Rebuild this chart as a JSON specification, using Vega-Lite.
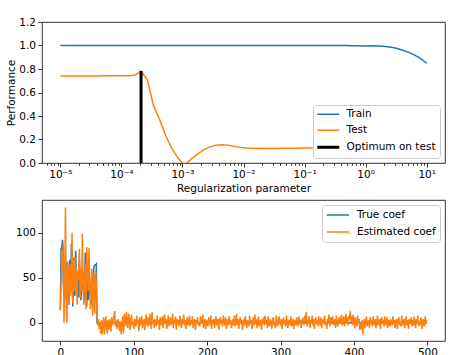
{
"$schema":"https://vega.github.io/schema/vega-lite/v6.json",
"padding":{"left":6,"top":16,"right":28,"bottom":0},
"bounds":"flush",
"spacing":37,
"config":{
 "font":"DejaVu Sans",
 "view":{"stroke":"black","strokeWidth":0.8},
 "axis":{"grid":false,"domain":false,"tickColor":"black","tickSize":4,"tickWidth":0.8,"labelColor":"black","labelFontSize":10.5,"labelFont":"DejaVu Sans","labelPadding":2.5,"titleFont":"DejaVu Sans","titleFontSize":10.5,"titleFontWeight":"normal","titleColor":"black","labelFlush":false,"labelOverlap":false},
 "legend":{"labelFontSize":10.5,"labelColor":"black","labelFont":"DejaVu Sans","symbolType":"M-2.2,0H2.2","symbolSize":100,"symbolStrokeWidth":1.5,"symbolOffset":6,"labelOffset":13,"padding":4,"rowPadding":5,"fillColor":"white","strokeColor":"#cccccc","cornerRadius":3,"offset":5}
},
"datasets":{
 "perf":[
{"a":1e-5,"tr":1,"te":0.740},{"a":1.2638e-5,"tr":1,"te":0.740},{"a":1.5972e-5,"tr":1,"te":0.740},{"a":2.0185e-5,"tr":1,"te":0.741},{"a":2.5510e-5,"tr":1,"te":0.741},{"a":3.2240e-5,"tr":1,"te":0.741},{"a":4.0745e-5,"tr":1,"te":0.741},{"a":5.1494e-5,"tr":1,"te":0.742},{"a":6.5079e-5,"tr":1,"te":0.742},{"a":8.2247e-5,"tr":1,"te":0.742},
{"a":1.0394e-4,"tr":1,"te":0.743},{"a":1.3136e-4,"tr":1,"te":0.743},{"a":1.6601e-4,"tr":1,"te":0.746},{"a":2.0981e-4,"tr":1,"te":0.783},{"a":2.6516e-4,"tr":1,"te":0.71},{"a":3.3511e-4,"tr":1,"te":0.49},{"a":4.2351e-4,"tr":1,"te":0.37},{"a":5.3524e-4,"tr":1,"te":0.23},{"a":6.7644e-4,"tr":1,"te":0.12},{"a":8.5488e-4,"tr":1,"te":0.04},
{"a":1.0804e-3,"tr":1,"te":-0.02},{"a":1.3654e-3,"tr":1,"te":0.03},{"a":1.7256e-3,"tr":1,"te":0.072},{"a":2.1809e-3,"tr":1,"te":0.11},{"a":2.7562e-3,"tr":1,"te":0.135},{"a":3.4833e-3,"tr":1,"te":0.152},{"a":4.4022e-3,"tr":1,"te":0.155},{"a":5.5635e-3,"tr":1,"te":0.152},{"a":7.0312e-3,"tr":1,"te":0.14},{"a":8.8861e-3,"tr":1,"te":0.133},
{"a":1.1230e-2,"tr":1,"te":0.128},{"a":1.4193e-2,"tr":1,"te":0.125},{"a":1.7937e-2,"tr":1,"te":0.123},{"a":2.2669e-2,"tr":1,"te":0.123},{"a":2.8650e-2,"tr":1,"te":0.123},{"a":3.6207e-2,"tr":1,"te":0.124},{"a":4.5759e-2,"tr":1,"te":0.125},{"a":5.7830e-2,"tr":1,"te":0.125},{"a":7.3086e-2,"tr":1,"te":0.126},{"a":9.2367e-2,"tr":1,"te":0.127},
{"a":0.11674,"tr":1,"te":0.128},{"a":0.14753,"tr":0.9999,"te":0.129},{"a":0.18645,"tr":0.9998,"te":0.13},{"a":0.23564,"tr":0.9997,"te":0.13},{"a":0.29780,"tr":0.9996,"te":0.13},{"a":0.37637,"tr":0.9994,"te":0.13},{"a":0.47566,"tr":0.999,"te":0.13},{"a":0.60114,"tr":0.9985,"te":0.13},{"a":0.75973,"tr":0.9975,"te":0.13},{"a":0.96016,"tr":0.996,"te":0.13},
{"a":1.2135,"tr":0.998,"te":0.13},{"a":1.5336,"tr":0.996,"te":0.13},{"a":1.9382,"tr":0.993,"te":0.13},{"a":2.4495,"tr":0.988,"te":0.13},{"a":3.0957,"tr":0.978,"te":0.13},{"a":3.9124,"tr":0.962,"te":0.13},{"a":4.9545,"tr":0.944,"te":0.13},{"a":6.2609,"tr":0.92,"te":0.13},{"a":7.9128,"tr":0.89,"te":0.13},{"a":10,"tr":0.849,"te":0.13}
 ],
 "opt":[{"a":2.0981e-4,"lo":0,"hi":0.783}],
 "truec":[
{"i":0,"t":14},{"i":1,"t":82},{"i":2,"t":84},{"i":3,"t":92},{"i":4,"t":45},{"i":5,"t":30},{"i":6,"t":55},{"i":7,"t":62},{"i":8,"t":25},{"i":9,"t":68},
{"i":10,"t":66},{"i":11,"t":40},{"i":12,"t":20},{"i":13,"t":70},{"i":14,"t":35},{"i":15,"t":88},{"i":16,"t":50},{"i":17,"t":18},{"i":18,"t":72},{"i":19,"t":30},
{"i":20,"t":60},{"i":21,"t":80},{"i":22,"t":35},{"i":23,"t":45},{"i":24,"t":55},{"i":25,"t":28},{"i":26,"t":70},{"i":27,"t":40},{"i":28,"t":25},{"i":29,"t":42},
{"i":30,"t":38},{"i":31,"t":56},{"i":32,"t":22},{"i":33,"t":34},{"i":34,"t":78},{"i":35,"t":47},{"i":36,"t":18},{"i":37,"t":60},{"i":38,"t":25},{"i":39,"t":30},
{"i":40,"t":45},{"i":41,"t":38},{"i":42,"t":20},{"i":43,"t":50},{"i":44,"t":35},{"i":45,"t":55},{"i":46,"t":63},{"i":47,"t":64},{"i":48,"t":64},{"i":49,"t":65},
{"i":50,"t":0},{"i":499,"t":0}
 ],
 "est":[
{"i":0,"e":14},{"i":1,"e":45},{"i":2,"e":80},{"i":3,"e":60},{"i":4,"e":88},{"i":5,"e":0},{"i":6,"e":40},{"i":7,"e":128},{"i":8,"e":30},{"i":9,"e":0},
{"i":10,"e":68},{"i":11,"e":55},{"i":12,"e":20},{"i":13,"e":65},{"i":14,"e":30},{"i":15,"e":45},{"i":16,"e":100},{"i":17,"e":22},{"i":18,"e":70},{"i":19,"e":35},
{"i":20,"e":73},{"i":21,"e":30},{"i":22,"e":60},{"i":23,"e":20},{"i":24,"e":58},{"i":25,"e":48},{"i":26,"e":82},{"i":27,"e":28},{"i":28,"e":60},{"i":29,"e":35},
{"i":30,"e":99},{"i":31,"e":50},{"i":32,"e":20},{"i":33,"e":45},{"i":34,"e":65},{"i":35,"e":15},{"i":36,"e":84},{"i":37,"e":55},{"i":38,"e":35},{"i":39,"e":83},
{"i":40,"e":48},{"i":41,"e":15},{"i":42,"e":40},{"i":43,"e":60},{"i":44,"e":8},{"i":45,"e":35},{"i":46,"e":55},{"i":47,"e":10},{"i":48,"e":58},{"i":49,"e":42},
{"i":50,"e":8},{"i":51,"e":-3},{"i":52,"e":4},{"i":53,"e":-7},{"i":54,"e":1},{"i":55,"e":-12},{"i":56,"e":3},{"i":57,"e":-13},{"i":58,"e":-4},{"i":59,"e":6},
{"i":60,"e":-13},{"i":61,"e":0},{"i":62,"e":7},{"i":63,"e":-6},{"i":64,"e":-12},{"i":65,"e":3},{"i":66,"e":-8},{"i":67,"e":4},{"i":68,"e":-1},{"i":69,"e":-10},
{"i":70,"e":6},{"i":71,"e":-3},{"i":72,"e":1},{"i":73,"e":8},{"i":74,"e":13},{"i":75,"e":-4},{"i":76,"e":3},{"i":77,"e":-7},{"i":78,"e":0},{"i":79,"e":4},
{"i":80,"e":-6},{"i":81,"e":-9},{"i":82,"e":1},{"i":83,"e":-13},{"i":84,"e":-3},{"i":85,"e":7},{"i":86,"e":-12},{"i":87,"e":10},{"i":88,"e":3},{"i":89,"e":-4},
{"i":90,"e":12},{"i":91,"e":0},{"i":92,"e":-6},{"i":93,"e":10},{"i":94,"e":4},{"i":95,"e":-8},{"i":96,"e":3},{"i":97,"e":9},{"i":98,"e":-3},{"i":99,"e":1},
{"i":100,"e":-7},{"i":101,"e":4},{"i":102,"e":0},{"i":103,"e":-4},{"i":104,"e":8},{"i":105,"e":-1},{"i":106,"e":3},{"i":107,"e":-9},{"i":108,"e":6},{"i":109,"e":-3},
{"i":110,"e":1},{"i":111,"e":7},{"i":112,"e":-6},{"i":113,"e":0},{"i":114,"e":4},{"i":115,"e":-8},{"i":116,"e":3},{"i":117,"e":9},{"i":118,"e":-1},{"i":119,"e":-4},
{"i":120,"e":6},{"i":121,"e":-3},{"i":122,"e":10},{"i":123,"e":1},{"i":124,"e":-7},{"i":125,"e":12},{"i":126,"e":-1},{"i":127,"e":3},{"i":128,"e":-6},{"i":129,"e":4},
{"i":130,"e":0},{"i":131,"e":-4},{"i":132,"e":8},{"i":133,"e":-1},{"i":134,"e":3},{"i":135,"e":-8},{"i":136,"e":6},{"i":137,"e":1},{"i":138,"e":-3},{"i":139,"e":7},
{"i":140,"e":-6},{"i":141,"e":3},{"i":142,"e":9},{"i":143,"e":-1},{"i":144,"e":4},{"i":145,"e":-7},{"i":146,"e":0},{"i":147,"e":8},{"i":148,"e":-4},{"i":149,"e":1},
{"i":150,"e":6},{"i":151,"e":-3},{"i":152,"e":1},{"i":153,"e":10},{"i":154,"e":-6},{"i":155,"e":3},{"i":156,"e":-1},{"i":157,"e":7},{"i":158,"e":-8},{"i":159,"e":4},
{"i":160,"e":0},{"i":161,"e":3},{"i":162,"e":-4},{"i":163,"e":8},{"i":164,"e":1},{"i":165,"e":-6},{"i":166,"e":4},{"i":167,"e":-1},{"i":168,"e":9},{"i":169,"e":-3},
{"i":170,"e":3},{"i":171,"e":-7},{"i":172,"e":1},{"i":173,"e":6},{"i":174,"e":-3},{"i":175,"e":0},{"i":176,"e":8},{"i":177,"e":-4},{"i":178,"e":3},{"i":179,"e":-1},
{"i":180,"e":7},{"i":181,"e":-6},{"i":182,"e":1},{"i":183,"e":4},{"i":184,"e":-8},{"i":185,"e":3},{"i":186,"e":0},{"i":187,"e":6},{"i":188,"e":-3},{"i":189,"e":1},
{"i":190,"e":-4},{"i":191,"e":7},{"i":192,"e":3},{"i":193,"e":-1},{"i":194,"e":9},{"i":195,"e":-6},{"i":196,"e":1},{"i":197,"e":4},{"i":198,"e":-7},{"i":199,"e":3},
{"i":200,"e":0},{"i":201,"e":-4},{"i":202,"e":6},{"i":203,"e":1},{"i":204,"e":-3},{"i":205,"e":8},{"i":206,"e":-7},{"i":207,"e":3},{"i":208,"e":-1},{"i":209,"e":4},
{"i":210,"e":-6},{"i":211,"e":1},{"i":212,"e":7},{"i":213,"e":-3},{"i":214,"e":0},{"i":215,"e":4},{"i":216,"e":-8},{"i":217,"e":3},{"i":218,"e":6},{"i":219,"e":-1},
{"i":220,"e":1},{"i":221,"e":-4},{"i":222,"e":8},{"i":223,"e":0},{"i":224,"e":-3},{"i":225,"e":6},{"i":226,"e":-7},{"i":227,"e":1},{"i":228,"e":4},{"i":229,"e":-3},
{"i":230,"e":7},{"i":231,"e":-1},{"i":232,"e":3},{"i":233,"e":-6},{"i":234,"e":0},{"i":235,"e":4},{"i":236,"e":-3},{"i":237,"e":8},{"i":238,"e":-4},{"i":239,"e":1},
{"i":240,"e":10},{"i":241,"e":-3},{"i":242,"e":4},{"i":243,"e":-7},{"i":244,"e":1},{"i":245,"e":6},{"i":246,"e":-1},{"i":247,"e":3},{"i":248,"e":-8},{"i":249,"e":0},
{"i":250,"e":4},{"i":251,"e":-3},{"i":252,"e":7},{"i":253,"e":1},{"i":254,"e":-6},{"i":255,"e":3},{"i":256,"e":0},{"i":257,"e":-4},{"i":258,"e":8},{"i":259,"e":-1},
{"i":260,"e":3},{"i":261,"e":-7},{"i":262,"e":1},{"i":263,"e":6},{"i":264,"e":-3},{"i":265,"e":9},{"i":266,"e":-1},{"i":267,"e":4},{"i":268,"e":-6},{"i":269,"e":0},
{"i":270,"e":7},{"i":271,"e":-4},{"i":272,"e":3},{"i":273,"e":1},{"i":274,"e":-8},{"i":275,"e":4},{"i":276,"e":-1},{"i":277,"e":6},{"i":278,"e":-3},{"i":279,"e":8},
{"i":280,"e":-1},{"i":281,"e":3},{"i":282,"e":-6},{"i":283,"e":7},{"i":284,"e":0},{"i":285,"e":-4},{"i":286,"e":4},{"i":287,"e":1},{"i":288,"e":-7},{"i":289,"e":3},
{"i":290,"e":6},{"i":291,"e":-3},{"i":292,"e":1},{"i":293,"e":-6},{"i":294,"e":8},{"i":295,"e":0},{"i":296,"e":-4},{"i":297,"e":3},{"i":298,"e":7},{"i":299,"e":-1},
{"i":300,"e":-3},{"i":301,"e":4},{"i":302,"e":-7},{"i":303,"e":1},{"i":304,"e":6},{"i":305,"e":-1},{"i":306,"e":3},{"i":307,"e":-4},{"i":308,"e":8},{"i":309,"e":0},
{"i":310,"e":-6},{"i":311,"e":3},{"i":312,"e":1},{"i":313,"e":-3},{"i":314,"e":7},{"i":315,"e":-4},{"i":316,"e":0},{"i":317,"e":4},{"i":318,"e":-7},{"i":319,"e":3},
{"i":320,"e":1},{"i":321,"e":-3},{"i":322,"e":6},{"i":323,"e":0},{"i":324,"e":-4},{"i":325,"e":7},{"i":326,"e":-1},{"i":327,"e":3},{"i":328,"e":-6},{"i":329,"e":4},
{"i":330,"e":0},{"i":331,"e":6},{"i":332,"e":-3},{"i":333,"e":8},{"i":334,"e":1},{"i":335,"e":12},{"i":336,"e":-4},{"i":337,"e":3},{"i":338,"e":-1},{"i":339,"e":7},
{"i":340,"e":-6},{"i":341,"e":3},{"i":342,"e":0},{"i":343,"e":8},{"i":344,"e":-3},{"i":345,"e":4},{"i":346,"e":-7},{"i":347,"e":1},{"i":348,"e":6},{"i":349,"e":-1},
{"i":350,"e":3},{"i":351,"e":-4},{"i":352,"e":7},{"i":353,"e":0},{"i":354,"e":-3},{"i":355,"e":6},{"i":356,"e":-6},{"i":357,"e":1},{"i":358,"e":4},{"i":359,"e":-1},
{"i":360,"e":8},{"i":361,"e":-3},{"i":362,"e":1},{"i":363,"e":-7},{"i":364,"e":4},{"i":365,"e":0},{"i":366,"e":9},{"i":367,"e":-4},{"i":368,"e":3},{"i":369,"e":6},
{"i":370,"e":-1},{"i":371,"e":7},{"i":372,"e":-3},{"i":373,"e":1},{"i":374,"e":4},{"i":375,"e":-6},{"i":376,"e":8},{"i":377,"e":0},{"i":378,"e":-4},{"i":379,"e":3},
{"i":380,"e":6},{"i":381,"e":-1},{"i":382,"e":4},{"i":383,"e":9},{"i":384,"e":-3},{"i":385,"e":1},{"i":386,"e":7},{"i":387,"e":-4},{"i":388,"e":3},{"i":389,"e":10},
{"i":390,"e":0},{"i":391,"e":6},{"i":392,"e":-3},{"i":393,"e":8},{"i":394,"e":4},{"i":395,"e":13},{"i":396,"e":1},{"i":397,"e":7},{"i":398,"e":-3},{"i":399,"e":9},
{"i":400,"e":3},{"i":401,"e":-6},{"i":402,"e":6},{"i":403,"e":1},{"i":404,"e":-4},{"i":405,"e":8},{"i":406,"e":-1},{"i":407,"e":4},{"i":408,"e":-8},{"i":409,"e":0},
{"i":410,"e":-7},{"i":411,"e":3},{"i":412,"e":-13},{"i":413,"e":-3},{"i":414,"e":4},{"i":415,"e":-6},{"i":416,"e":1},{"i":417,"e":7},{"i":418,"e":-4},{"i":419,"e":0},
{"i":420,"e":3},{"i":421,"e":-6},{"i":422,"e":6},{"i":423,"e":-1},{"i":424,"e":1},{"i":425,"e":-4},{"i":426,"e":7},{"i":427,"e":0},{"i":428,"e":-3},{"i":429,"e":4},
{"i":430,"e":-6},{"i":431,"e":1},{"i":432,"e":8},{"i":433,"e":-3},{"i":434,"e":0},{"i":435,"e":4},{"i":436,"e":-7},{"i":437,"e":3},{"i":438,"e":6},{"i":439,"e":-1},
{"i":440,"e":1},{"i":441,"e":-4},{"i":442,"e":7},{"i":443,"e":0},{"i":444,"e":-3},{"i":445,"e":6},{"i":446,"e":-6},{"i":447,"e":3},{"i":448,"e":1},{"i":449,"e":-4},
{"i":450,"e":4},{"i":451,"e":0},{"i":452,"e":-3},{"i":453,"e":7},{"i":454,"e":-1},{"i":455,"e":3},{"i":456,"e":-6},{"i":457,"e":1},{"i":458,"e":4},{"i":459,"e":-7},
{"i":460,"e":3},{"i":461,"e":6},{"i":462,"e":-1},{"i":463,"e":0},{"i":464,"e":-4},{"i":465,"e":8},{"i":466,"e":-3},{"i":467,"e":1},{"i":468,"e":4},{"i":469,"e":-6},
{"i":470,"e":0},{"i":471,"e":7},{"i":472,"e":-3},{"i":473,"e":3},{"i":474,"e":-7},{"i":475,"e":4},{"i":476,"e":1},{"i":477,"e":-1},{"i":478,"e":6},{"i":479,"e":-4},
{"i":480,"e":3},{"i":481,"e":-3},{"i":482,"e":7},{"i":483,"e":0},{"i":484,"e":-6},{"i":485,"e":4},{"i":486,"e":-1},{"i":487,"e":8},{"i":488,"e":-4},{"i":489,"e":1},
{"i":490,"e":-3},{"i":491,"e":6},{"i":492,"e":0},{"i":493,"e":-7},{"i":494,"e":4},{"i":495,"e":1},{"i":496,"e":-4},{"i":497,"e":7},{"i":498,"e":-1},{"i":499,"e":3}
 ]
},
"resolve":{"scale":{"color":"independent"},"legend":{"color":"independent"}},
"vconcat":[
 {
  "width":403,"height":141,
  "layer":[
   {"data":{"name":"perf"},"mark":{"type":"line","strokeWidth":1.5,"clip":true},
    "encoding":{
     "x":{"field":"a","type":"quantitative","scale":{"type":"log","domain":[5.012e-6,19.95],"nice":false},
      "axis":{"title":"Regularization parameter","titlePadding":3,
       "values":[6e-6,7e-6,8e-6,9e-6,1e-5,2e-5,3e-5,4e-5,5e-5,6e-5,7e-5,8e-5,9e-5,1e-4,2e-4,3e-4,4e-4,5e-4,6e-4,7e-4,8e-4,9e-4,1e-3,2e-3,3e-3,4e-3,5e-3,6e-3,7e-3,8e-3,9e-3,1e-2,2e-2,3e-2,4e-2,5e-2,6e-2,7e-2,8e-2,9e-2,1e-1,2e-1,3e-1,4e-1,5e-1,6e-1,7e-1,8e-1,9e-1,1,2,3,4,5,6,7,8,9,10],
       "labelExpr":"datum.value == 0.00001 ? '10⁻⁵' : datum.value == 0.0001 ? '10⁻⁴' : datum.value == 0.001 ? '10⁻³' : datum.value == 0.01 ? '10⁻²' : datum.value == 0.1 ? '10⁻¹' : datum.value == 1 ? '10⁰' : datum.value == 10 ? '10¹' : ''",
       "tickSize":{"condition":{"test":"datum.value == 0.00001 || datum.value == 0.0001 || datum.value == 0.001 || datum.value == 0.01 || datum.value == 0.1 || datum.value == 1 || datum.value == 10","value":4},"value":2.2}}},
     "y":{"field":"tr","type":"quantitative","scale":{"domain":[0,1.2],"nice":false,"zero":false},
      "axis":{"title":"Performance","titlePadding":2,"values":[0,0.2,0.4,0.6,0.8,1.0,1.2],"format":".1f","labelOverlap":false}},
     "color":{"datum":"Train","type":"nominal",
      "scale":{"domain":["Train","Test","Optimum on test"],"range":["#1f77b4","#ff7f0e","#000000"]},
      "legend":{"title":null,"orient":"bottom-right",
       "encode":{"symbols":{"update":{"strokeWidth":{"signal":"datum.value === 'Optimum on test' ? 3 : 1.5"}}}}}}
    }},
   {"data":{"name":"perf"},"mark":{"type":"line","strokeWidth":1.5,"clip":true},
    "encoding":{
     "x":{"field":"a","type":"quantitative"},
     "y":{"field":"te","type":"quantitative","axis":{"title":"Performance","titlePadding":2,"values":[0,0.2,0.4,0.6,0.8,1.0,1.2],"format":".1f","labelOverlap":false}},
     "color":{"datum":"Test","type":"nominal"}
    }},
   {"data":{"name":"opt"},"mark":{"type":"rule","strokeWidth":3},
    "encoding":{
     "x":{"field":"a","type":"quantitative"},
     "y":{"field":"lo","type":"quantitative","axis":{"title":"Performance","titlePadding":2,"values":[0,0.2,0.4,0.6,0.8,1.0,1.2],"format":".1f","labelOverlap":false}},
     "y2":{"field":"hi"},
     "color":{"datum":"Optimum on test","type":"nominal"}
    }}
  ]
 },
 {
  "width":403,"height":141,
  "layer":[
   {"data":{"name":"truec"},"mark":{"type":"line","strokeWidth":1.5},
    "encoding":{
     "x":{"field":"i","type":"quantitative","scale":{"domain":[-24.95,523.95],"nice":false,"zero":false},"axis":{"title":null,"values":[0,100,200,300,400,500]}},
     "y":{"field":"t","type":"quantitative","scale":{"domain":[-20.3,136.3],"nice":false,"zero":false},"axis":{"title":null,"values":[0,50,100]}},
     "color":{"datum":"True coef","type":"nominal",
      "scale":{"domain":["True coef","Estimated coef"],"range":["#1f77b4","#ff7f0e"]},
      "legend":{"title":null,"orient":"top-right"}}
    }},
   {"data":{"name":"est"},"mark":{"type":"line","strokeWidth":1.5},
    "encoding":{
     "x":{"field":"i","type":"quantitative"},
     "y":{"field":"e","type":"quantitative","axis":{"title":null,"values":[0,50,100]}},
     "color":{"datum":"Estimated coef","type":"nominal"}
    }}
  ]
 }
]
}
